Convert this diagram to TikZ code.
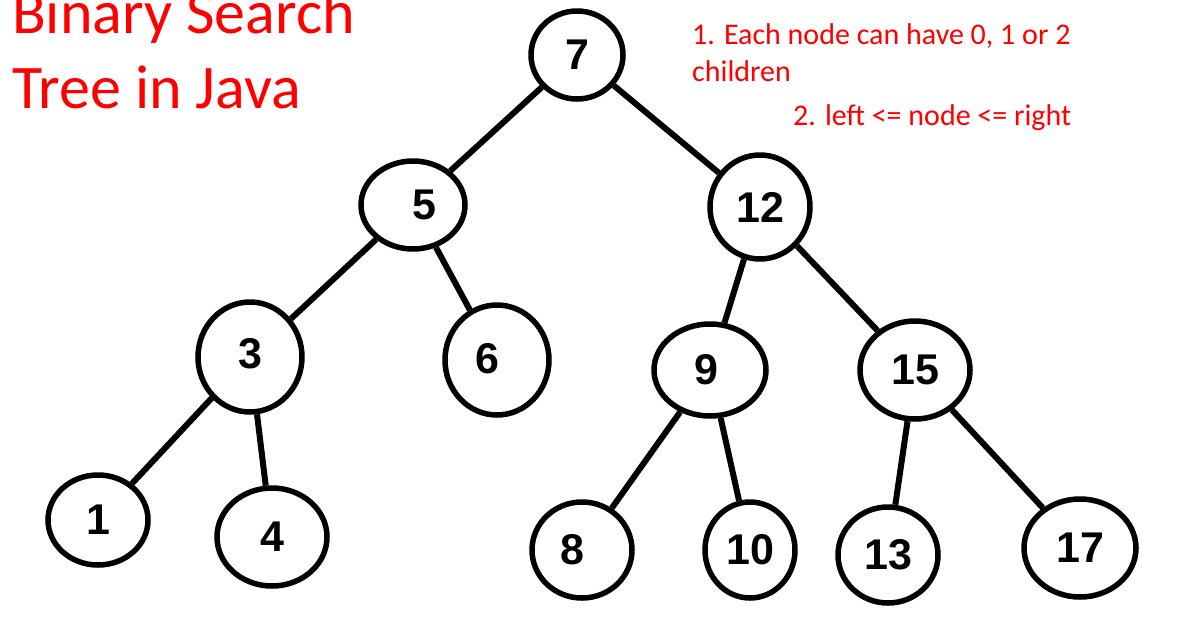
\documentclass[tikz,border=0pt]{standalone}
\usepackage{fontspec}
\setmainfont{Carlito}
\newfontfamily\numfont{Liberation Sans}
\usetikzlibrary{shapes.geometric}
\begin{document}
\begin{tikzpicture}[x=1pt,y=-1pt,
  tn/.style={draw,ellipse,line width=5.5pt,inner sep=0pt,font=\numfont\bfseries\fontsize{43}{45}\selectfont},
  ed/.style={line width=6pt},
  red/.style={text=red,anchor=base west,inner sep=0pt}]
\useasboundingbox (0,0) rectangle (1200,630);
\node[tn,minimum width=92,minimum height=88] (n7) at (577,55) {7};
\node[tn,minimum width=104,minimum height=88] (n5) at (413,205) {\hspace{22pt}5};
\node[tn,minimum width=100,minimum height=104] (n12) at (760,207) {12};
\node[tn,minimum width=104,minimum height=110] (n3) at (250,357) {\raisebox{8pt}{3}\hspace{36pt}};
\node[tn,minimum width=104,minimum height=110] (n6) at (497,360) {\hspace{-20pt}\raisebox{4pt}{6}};
\node[tn,minimum width=112,minimum height=92] (n9) at (710,370) {\hspace{-8pt}9};
\node[tn,minimum width=110,minimum height=98] (n15) at (915,370) {15};
\node[tn,minimum width=100,minimum height=90] (n1) at (98,520) {1};
\node[tn,minimum width=110,minimum height=98] (n4) at (272,537) {4};
\node[tn,minimum width=100,minimum height=96] (n8) at (582,550) {\hspace{-20pt}8};
\node[tn,minimum width=90,minimum height=96] (n10) at (750,550) {10};
\node[tn,minimum width=100,minimum height=96] (n13) at (888,555) {13};
\node[tn,minimum width=112,minimum height=98] (n17) at (1080,548) {17};
\draw[ed] (n7) -- (n5);
\draw[ed] (n7) -- (n12);
\draw[ed] (n5) -- (n3);
\draw[ed] (n5) -- (n6);
\draw[ed] (n12) -- (n9);
\draw[ed] (n12) -- (n15);
\draw[ed] (n3) -- (n1);
\draw[ed] (n3) -- (n4);
\draw[ed] (n9) -- (n8);
\draw[ed] (n9) -- (n10);
\draw[ed] (n15) -- (n13);
\draw[ed] (n15) -- (n17);
\node[red,font=\fontsize{62}{66}\selectfont] (t1) at (12,33) {Binary Search};
\node[red,font=\fontsize{62}{66}\selectfont] (t2) at (12,108) {Tree in Java};
\node[red,font=\fontsize{30}{32}\selectfont] (r1) at (692,44) {1. Each node can have 0, 1 or 2};
\node[red,font=\fontsize{30}{32}\selectfont] (r2) at (692,81) {children};
\node[red,font=\fontsize{30}{32}\selectfont] (r3) at (793,125) {2. left <= node <= right};
\end{tikzpicture}
\end{document}
